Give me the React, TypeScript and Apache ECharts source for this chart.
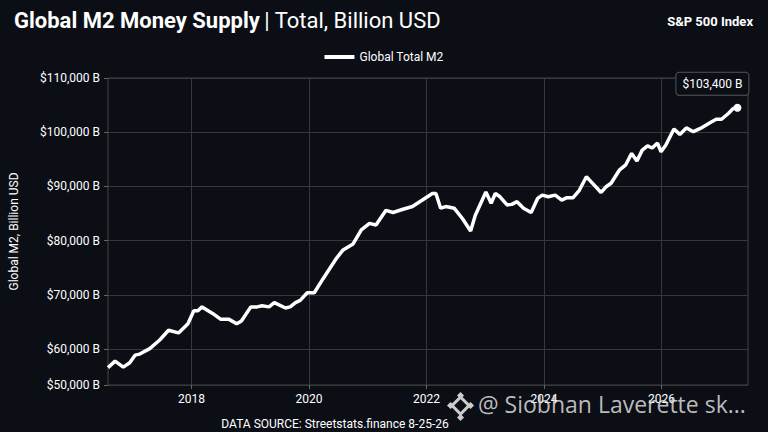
import { useEffect, useRef } from "react";
import * as echarts from "echarts";

// decimal year, billions USD
const years = [
  2016.58, 2016.7, 2016.84, 2016.95, 2017.04, 2017.12, 2017.29, 2017.46, 2017.61, 2017.78,
  2017.94, 2018.04, 2018.11, 2018.18, 2018.36, 2018.5, 2018.64, 2018.77, 2018.85, 2019.01,
  2019.12, 2019.2, 2019.32, 2019.41, 2019.6, 2019.68, 2019.77, 2019.85, 2019.97, 2020.09,
  2020.24, 2020.47, 2020.58, 2020.75, 2020.89, 2021.03, 2021.14, 2021.31, 2021.43, 2021.6,
  2021.76, 2021.93, 2022.1, 2022.16, 2022.24, 2022.33, 2022.47, 2022.61, 2022.75, 2022.83,
  2023.01, 2023.1, 2023.17, 2023.25, 2023.37, 2023.45, 2023.54, 2023.65, 2023.78, 2023.89,
  2023.97, 2024.07, 2024.19, 2024.3, 2024.38, 2024.49, 2024.6, 2024.72, 2024.85, 2024.97,
  2025.05, 2025.14, 2025.28, 2025.39, 2025.49, 2025.58, 2025.67, 2025.76, 2025.84, 2025.93,
  2025.99, 2026.07, 2026.21, 2026.31, 2026.42, 2026.54, 2026.66, 2026.83, 2026.93, 2027.02,
  2027.14, 2027.22, 2027.29,
];
const m2 = [
  56600, 57800, 56700, 57500, 58900, 59100, 60100, 61700, 63500, 63000,
  64700, 67100, 67100, 67800, 66600, 65500, 65500, 64700, 65200, 67800,
  67800, 68000, 67800, 68600, 67600, 67800, 68600, 69000, 70400, 70400,
  73000, 76800, 78300, 79400, 82000, 83200, 82900, 85600, 85200, 85800,
  86300, 87500, 88700, 88700, 86000, 86300, 86000, 84100, 81800, 84700,
  89000, 86900, 88700, 88100, 86600, 86700, 87200, 86000, 85200, 87800,
  88400, 88100, 88400, 87500, 87900, 87900, 89300, 91800, 90300, 88900,
  89900, 90600, 93000, 94000, 96100, 94700, 96700, 97500, 97100, 98000,
  96400, 97600, 100600, 99600, 100800, 100100, 100700, 101800, 102400, 102400,
  103500, 104400, 104500,
];
const yearTicks = [2018, 2020, 2022, 2024, 2026];
const valueTicks = [53400, 60000, 70000, 80000, 90000, 100000, 110000];
const lastLabel = "$103,400 B";

const BG = "#0c0e16";

export default function App() {
  const ref = useRef<HTMLDivElement>(null);
  useEffect(() => {
    if (!ref.current) return;
    const chart = echarts.init(ref.current, undefined, { renderer: "svg" });
    const n = years.length;
    chart.setOption({
      animation: false,
      backgroundColor: BG,
      textStyle: { fontFamily: "Roboto" },
      title: [
        {
          text: "{b|Global M2 Money Supply} {n|| Total, Billion USD}",
          left: 9,
          top: 4,
          textStyle: {
            rich: {
              b: { color: "#fff", fontSize: 22, fontWeight: "bold", fontFamily: "Roboto" },
              n: { color: "#fff", fontSize: 22, fontWeight: "normal", fontFamily: "Roboto" },
            },
          },
        },
        {
          text: "S&P 500 Index",
          right: 10,
          top: 10,
          textStyle: { color: "#fff", fontSize: 13, fontWeight: "bold" },
        },
        {
          text: "DATA SOURCE: Streetstats.finance 8-25-26",
          left: 330,
          textAlign: "center",
          top: 413,
          textStyle: { color: "#fff", fontSize: 12, fontWeight: "normal" },
        },
      ],
      legend: {
        top: 46,
        left: "center",
        icon: "rect",
        itemWidth: 30,
        itemHeight: 4,
        textStyle: { color: "#fff", fontSize: 12 },
      },
      grid: {
        left: 103,
        right: 20,
        top: 78,
        bottom: 47,
        show: true,
        borderColor: "#444",
        borderWidth: 1,
      },
      xAxis: {
        type: "value",
        min: 2016.58,
        max: 2027.47,
        axisLine: { show: false },
        axisTick: { show: true, customValues: yearTicks, lineStyle: { color: "#666" }, length: 4 },
        axisLabel: { customValues: yearTicks, color: "#fff", fontSize: 12, formatter: (v: number) => String(v) },
        splitLine: { show: true, lineStyle: { color: "#383838" } },
      },
      yAxis: {
        type: "value",
        min: 53400,
        max: 110000,
        name: "Global M2, Billion USD",
        nameLocation: "middle",
        nameGap: 88,
        nameTextStyle: { color: "#fff", fontSize: 12 },
        axisLine: { show: false },
        axisTick: { show: true, customValues: valueTicks, lineStyle: { color: "#666" }, length: 4 },
        axisLabel: {
          customValues: valueTicks,
          color: "#fff",
          fontSize: 12,
          formatter: (v: number) =>
            "$" + (v < 60000 ? 50000 : v).toLocaleString("en-US") + " B",
        },
        splitLine: { show: true, lineStyle: { color: "#383838" } },
      },
      series: [
        {
          name: "Global Total M2",
          type: "line",
          data: years.map((y, i) => {
            const p: any = { value: [y, m2[i]] };
            if (i === n - 1) {
              p.symbol = "circle";
              p.symbolSize = 8;
              p.label = {
                show: true,
                position: "top",
                offset: [-25, -4],
                formatter: lastLabel,
                color: "#fff",
                fontSize: 12,
                backgroundColor: BG,
                borderColor: "#555",
                borderWidth: 1,
                borderRadius: 3,
                padding: [5, 6],
              };
            }
            return p;
          }),
          showSymbol: true,
          symbol: "none",
          lineStyle: { color: "#fff", width: 3.5 },
          itemStyle: { color: "#fff" },
          z: 5,
        },
      ],
      graphic: [
        {
          type: "group",
          left: 447,
          top: 392,
          children: [
            { type: "rect", shape: { x: -6, y: -6, width: 12, height: 12 }, x: 13, y: 12, rotation: Math.PI / 4, style: { fill: "none", stroke: "#ccc", lineWidth: 3 } },
            { type: "rect", shape: { x: -2.5, y: -2.5, width: 5, height: 5 }, x: 3, y: 12, rotation: Math.PI / 4, style: { fill: "#ccc" } },
            { type: "rect", shape: { x: -2.5, y: -2.5, width: 5, height: 5 }, x: 23, y: 12, rotation: Math.PI / 4, style: { fill: "#ccc" } },
            { type: "rect", shape: { x: -2.5, y: -2.5, width: 5, height: 5 }, x: 13, y: 2, rotation: Math.PI / 4, style: { fill: "#ccc" } },
            { type: "rect", shape: { x: -2.5, y: -2.5, width: 5, height: 5 }, x: 13, y: 24, rotation: Math.PI / 4, style: { fill: "#ccc" } },
          ],
        },
        {
          type: "text",
          left: 478,
          top: 392,
          style: { text: "@ Siobhan Laverette sk...", fill: "rgba(220,220,220,0.85)", fontSize: 23, fontFamily: "Open Sans" },
          z: 10,
        },
      ],
    });
    return () => chart.dispose();
  }, []);
  return <div ref={ref} style={{ width: 768, height: 432, position: "absolute", left: 0, top: 0 }} />;
}
